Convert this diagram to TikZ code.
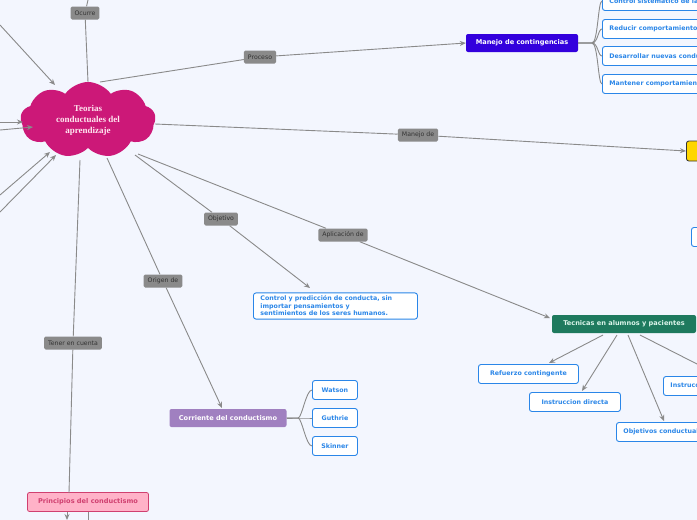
\documentclass[tikz,border=0pt]{standalone}
\usepackage{fontspec}
\setmainfont{Liberation Serif}
\newfontfamily\vsans{DejaVu Sans}
\usetikzlibrary{shapes.symbols,arrows.meta}
\definecolor{bg}{HTML}{F3F6FE}
\definecolor{lbl}{HTML}{8A8A8A}
\definecolor{edge}{HTML}{8A8A8A}
\definecolor{bluet}{HTML}{2A86E8}
\begin{document}
\begin{tikzpicture}[x=1pt,y=-1pt,
  lab/.style={fill=lbl,rounded corners=1.5pt,font=\vsans\fontsize{6.2}{7}\selectfont,text=black!80,minimum height=13,inner xsep=4pt,inner ysep=0pt},
  sub/.style={draw=bluet,fill=white,rounded corners=2.5pt,line width=0.9pt,text=bluet,font=\vsans\bfseries\fontsize{6.3}{7.5}\selectfont,minimum height=19,inner xsep=7pt,inner ysep=2pt,anchor=west},
  main/.style={rounded corners=2pt,text=white,font=\vsans\bfseries\fontsize{6.6}{8}\selectfont,minimum height=18,inner xsep=6pt,inner ysep=0pt},
  con/.style={draw=edge,line width=0.9pt},
  arr/.style={con,-{Stealth[length=6pt,width=5pt]}}]
\fill[bg] (0,0) rectangle (697,520);
\useasboundingbox (0,0) rectangle (697,520);
\begin{scope}
\clip (0,0) rectangle (697,520);
% central cloud
\node[cloud,cloud puffs=9,cloud puff arc=110,aspect=1.8,fill={rgb,255:red,204;green,24;blue,120},minimum width=135,minimum height=76,inner sep=0pt,align=center,text={rgb,255:red,255;green,230;blue,240},font=\bfseries\fontsize{9}{11}\selectfont] (c) at (88,120) {Teorias\\conductuales del\\aprendizaje};
% labels
\node[lab] (ocu) at (85,13) {Ocurre};
\node[lab] (pro) at (260,57) {Proceso};
\node[lab] (mde) at (418,135) {Manejo de};
\node[lab] (obj) at (221,219) {Objetivo};
\node[lab] (apl) at (343,235) {Aplicación de};
\node[lab] (ori) at (163,281) {Origen de};
\node[lab] (ten) at (73,343) {Tener en cuenta};
% main nodes
\node[main,fill={rgb,255:red,51;green,0;blue,221},minimum width=112] (mc) at (522,43) {Manejo de contingencias};
\node[draw=black!80,fill={rgb,255:red,255;green,214;blue,0},rounded corners=2.5pt,line width=0.8pt,minimum height=20,minimum width=40,anchor=west] (yel) at (686,151) {};
\node[draw=bluet,fill=white,rounded corners=2.5pt,line width=0.9pt,minimum height=19,minimum width=30,anchor=west] (bx) at (691,237) {};
\node[main,fill={rgb,255:red,30;green,122;blue,94},minimum width=144,text={rgb,255:red,220;green,245;blue,235}] (tec) at (624,324) {Tecnicas en alumnos y pacientes};
\node[main,fill={rgb,255:red,160;green,128;blue,192},minimum width=117] (cor) at (228,418) {Corriente del conductismo};
\node[draw={rgb,255:red,208;green,64;blue,112},fill={rgb,255:red,255;green,178;blue,200},rounded corners=2pt,line width=0.8pt,text={rgb,255:red,208;green,64;blue,112},font=\vsans\bfseries\fontsize{6.6}{8}\selectfont,minimum height=19,minimum width=121,inner sep=0pt] (pri) at (88,502) {Principios del conductismo};
% sub nodes
\node[sub] (s1) at (602,1) {Control sistemático de la conducta};
\node[sub] (s2) at (602,29) {Reducir comportamientos};
\node[sub] (s3) at (602,56) {Desarrollar nuevas conductas};
\node[sub] (s4) at (602,84) {Mantener comportamientos};
\node[sub,align=left,text width=150,inner ysep=3pt] (cp) at (253,306) {Control y predicción de conducta, sin\\importar pensamientos y\\sentimientos de los seres humanos.};
\node[sub,minimum width=100] (rc) at (478,374) {Refuerzo contingente};
\node[sub,minimum width=91] (id) at (529,402) {Instruccion directa};
\node[sub] (oc) at (616,432) {Objetivos conductuales};
\node[sub] (ins) at (663,386) {Instrucción programada};
\node[sub,minimum width=45] (w) at (312,390) {Watson};
\node[sub,minimum width=45] (g) at (312,418) {Guthrie};
\node[sub,minimum width=45] (sk) at (312,446) {Skinner};
% coordinates
\coordinate (top) at (88,0);
\coordinate (l1) at (0,25);
\coordinate (l2) at (0,122);
\coordinate (l3) at (0,130);
\coordinate (l4) at (0,195);
\coordinate (l5) at (0,212);
\coordinate (b1) at (67,520);
\coordinate (b2) at (88,520);
% edges from cloud
\draw[con] (88,82) -- (ocu) -- (top);
\draw[arr] (l1) -- (55,85);
\draw[arr] (l2) -- (23,122);
\draw[arr] (l3) -- (33,127);
\draw[arr] (l4) -- (50,152);
\draw[arr] (l5) -- (56,155);
\draw[con] (100,82) -- (pro);
\draw[arr] (pro) -- (mc.west);
\draw[con] (155,124) -- (mde);
\draw[arr] (mde) -- (yel.west);
\draw[con] (135,155) -- (obj);
\draw[arr] (obj) -- (310,288);
\draw[con] (138,154) -- (apl);
\draw[arr] (apl) -- (550,318);
\draw[con] (107,158) -- (ori);
\draw[arr] (ori) -- (222,408);
\draw[con] (80,160) -- (ten) -- (69,493);
\draw[arr] (67,512) -- (b1);
\draw[con] (88,512) -- (b2);
% tree from Manejo de contingencias
\foreach \t in {s1,s2,s3,s4}
  \draw[con] (mc.east) -- (592,43) .. controls (598,43) and (598,43|-\t.west) .. (\t.west);
% tree from Corriente
\foreach \t in {w,g,sk}
  \draw[con] (cor.east) -- (298,418) .. controls (302,418) and (306,418|-\t.west) .. (\t.west);
% techniques
\draw[arr] (603,335) -- (549,363);
\draw[arr] (617,335) -- (582,391);
\draw[arr] (628,335) -- (664,421);
\draw[con] (640,335) -- (697,364);
\end{scope}
\end{tikzpicture}
\end{document}
